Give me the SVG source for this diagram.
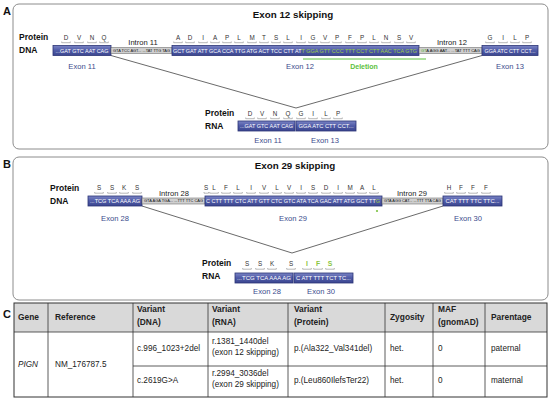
<svg xmlns="http://www.w3.org/2000/svg" xmlns:xlink="http://www.w3.org/1999/xlink" width="550" height="400" viewBox="0 0 550 400">
<defs>
<linearGradient id="exg" x1="0" y1="0" x2="0" y2="1">
<stop offset="0" stop-color="#7a84c4"/>
<stop offset="0.45" stop-color="#525da9"/>
<stop offset="1" stop-color="#3b4690"/>
</linearGradient>
<path id="br" d="M-4.3 0 V1.2 H4.3 V0" fill="none" stroke="#8a8a8a" stroke-width="0.6"/>
</defs>
<style>
text{font-family:"Liberation Sans",Arial,sans-serif}
.panel{fill:none;stroke:#8c8c8c;stroke-width:1}
.plab{font-size:11px;font-weight:bold;fill:#111}
.title{font-size:9.8px;font-weight:bold;fill:#111;text-anchor:middle}
.side{font-size:8.5px;font-weight:bold;fill:#111}
.ex{fill:url(#exg);stroke:#2b3476;stroke-width:0.8}
.in{fill:#cfcfcf;stroke:#5a5a5a;stroke-width:0.5}
.seq{font-size:5.4px;fill:#ffffff}
.iseq{font-size:3.1px;fill:#111}
.aa{font-size:6.3px;fill:#333;text-anchor:middle}
.aag{font-size:6.8px;fill:#8cc63f;font-weight:bold;text-anchor:middle}
.exl{font-size:7.6px;fill:#3b4b8c;text-anchor:middle}
.inl{font-size:7.6px;fill:#222;text-anchor:middle}
.grn{fill:#9ccf45}
.del{font-size:7px;fill:#5cc13d;font-weight:bold;text-anchor:middle}
.conn{stroke:#444;stroke-width:0.8;fill:none}
.th{font-size:8.4px;font-weight:bold;fill:#222}
.td{font-size:8.2px;fill:#222}
.tl{stroke:#333;stroke-width:0.8}
</style>

<!-- Panel labels and borders -->
<text class="plab" x="3" y="15">A</text>
<rect class="panel" x="13" y="4" width="535" height="145" rx="6"/>
<text class="plab" x="3" y="168">B</text>
<rect class="panel" x="13" y="157" width="535" height="143" rx="6"/>
<text class="plab" x="3" y="318">C</text>

<!-- ===== Panel A ===== -->
<text class="title" x="293" y="18">Exon 12 skipping</text>
<text class="side" x="19" y="40">Protein</text>
<text class="side" x="19" y="53">DNA</text>

<g id="connectorsA">
<path class="conn" d="M111 55.5 L296 108 L482 55.5"/>
</g>

<g id="exon11-dna">
<text class="aa" x="66 79 92 104" y="39.5">DVNQ</text>
<use xlink:href="#br" x="66" y="41.5"/><use xlink:href="#br" x="79" y="41.5"/><use xlink:href="#br" x="92" y="41.5"/><use xlink:href="#br" x="104" y="41.5"/>
<rect class="ex" x="53" y="45.5" width="58" height="10"/>
<text class="seq" x="55.5" y="52.7" textLength="53" lengthAdjust="spacingAndGlyphs">...GAT GTC AAT CAG</text>
<text class="exl" x="82" y="69">Exon 11</text>
</g>

<g id="intron11">
<rect class="in" x="111" y="47.5" width="61" height="6"/>
<text class="iseq" x="113" y="51.6" textLength="57" lengthAdjust="spacingAndGlyphs">GTA TCC AGT... ...TAT TTG TAG</text>
<text class="inl" x="143" y="45">Intron 11</text>
</g>

<g id="exon12-dna">
<text class="aa" x="178 190 203 215 227 239 252 264 276 288 301 313 325 337 350 362 374 386 399 411" y="39.5">ADIAPLMTSLIGVPFPLNSV</text>
<use xlink:href="#br" x="178" y="41.5"/><use xlink:href="#br" x="190" y="41.5"/><use xlink:href="#br" x="203" y="41.5"/><use xlink:href="#br" x="215" y="41.5"/><use xlink:href="#br" x="227" y="41.5"/><use xlink:href="#br" x="239" y="41.5"/><use xlink:href="#br" x="252" y="41.5"/><use xlink:href="#br" x="264" y="41.5"/><use xlink:href="#br" x="276" y="41.5"/><use xlink:href="#br" x="288" y="41.5"/><use xlink:href="#br" x="301" y="41.5"/><use xlink:href="#br" x="313" y="41.5"/><use xlink:href="#br" x="325" y="41.5"/><use xlink:href="#br" x="337" y="41.5"/><use xlink:href="#br" x="350" y="41.5"/><use xlink:href="#br" x="362" y="41.5"/><use xlink:href="#br" x="374" y="41.5"/><use xlink:href="#br" x="386" y="41.5"/><use xlink:href="#br" x="399" y="41.5"/><use xlink:href="#br" x="411" y="41.5"/>
<rect class="ex" x="172" y="45.5" width="247" height="10"/>
<text class="seq" x="173" y="52.7" textLength="244" lengthAdjust="spacingAndGlyphs">GCT GAT ATT GCA CCA TTG ATG ACT TCC CTT AT<tspan class="grn">T GGA GTT CCC TTT CCT CTT AAC TCA GTG</tspan></text>
<text class="exl" x="300" y="69">Exon 12</text>
<line x1="303" y1="59" x2="426" y2="59" stroke="#5cc13d" stroke-width="1"/>
<text class="del" x="364" y="69">Deletion</text>
</g>

<g id="intron12">
<rect class="in" x="419" y="47.5" width="63" height="6"/>
<text class="iseq" x="421" y="51.6" textLength="59" lengthAdjust="spacingAndGlyphs"><tspan fill="#4caf2a">GT</tspan>A AGG AAT... ...TAT TTT CAG</text>
<text class="inl" x="452" y="45">Intron 12</text>
</g>

<g id="exon13-dna">
<text class="aa" x="490 503 515 527" y="39.5">GILP</text>
<use xlink:href="#br" x="490" y="41.5"/><use xlink:href="#br" x="503" y="41.5"/><use xlink:href="#br" x="515" y="41.5"/><use xlink:href="#br" x="527" y="41.5"/>
<rect class="ex" x="482" y="45.5" width="56" height="10"/>
<text class="seq" x="484.5" y="52.7" textLength="51" lengthAdjust="spacingAndGlyphs">GGA ATC CTT CCT...</text>
<text class="exl" x="510" y="69">Exon 13</text>
</g>

<g id="rnaA">
<text class="side" x="205" y="116">Protein</text>
<text class="side" x="205" y="129">RNA</text>
<text class="aa" x="250 262 275 288 301 313 326 338" y="115.5">DVNQGILP</text>
<use xlink:href="#br" x="250" y="117.5"/><use xlink:href="#br" x="262" y="117.5"/><use xlink:href="#br" x="275" y="117.5"/><use xlink:href="#br" x="288" y="117.5"/><use xlink:href="#br" x="301" y="117.5"/><use xlink:href="#br" x="313" y="117.5"/><use xlink:href="#br" x="326" y="117.5"/><use xlink:href="#br" x="338" y="117.5"/>
<rect class="ex" x="238" y="121" width="57" height="10"/>
<rect class="ex" x="296" y="121" width="60" height="10"/>
<text class="seq" x="240" y="128.2" textLength="53" lengthAdjust="spacingAndGlyphs">...GAT GTC AAT CAG</text>
<text class="seq" x="298.5" y="128.2" textLength="55" lengthAdjust="spacingAndGlyphs">GGA ATC CTT CCT...</text>
<text class="exl" x="268" y="143">Exon 11</text>
<text class="exl" x="325" y="143">Exon 13</text>
</g>

<!-- ===== Panel B ===== -->
<text class="title" x="295" y="169">Exon 29 skipping</text>
<text class="side" x="50" y="191">Protein</text>
<text class="side" x="50" y="204">DNA</text>

<g id="connectorsB">
<path class="conn" d="M142 206 L292 253 L443 206"/>
</g>

<g id="exon28-dna">
<text class="aa" x="99 112 124 137" y="190">SSKS</text>
<use xlink:href="#br" x="99" y="192"/><use xlink:href="#br" x="112" y="192"/><use xlink:href="#br" x="124" y="192"/><use xlink:href="#br" x="137" y="192"/>
<rect class="ex" x="88" y="196" width="54" height="10"/>
<text class="seq" x="90" y="203.2" textLength="50" lengthAdjust="spacingAndGlyphs">...TCG TCA AAA AG</text>
<text class="exl" x="115" y="221">Exon 28</text>
</g>

<g id="intron28">
<rect class="in" x="142" y="198" width="63" height="6"/>
<text class="iseq" x="144" y="202.1" textLength="59" lengthAdjust="spacingAndGlyphs">GTA AGA TGA... ...TTT TTC CAG</text>
<text class="inl" x="174" y="195.5">Intron 28</text>
</g>

<g id="exon29-dna">
<text class="aa" x="206 214 226 238 251 264 277 289 301 313 326 338 350 362 374" y="190">SLFLIVLVISDIMAL</text>
<use xlink:href="#br" x="214" y="192"/><use xlink:href="#br" x="226" y="192"/><use xlink:href="#br" x="238" y="192"/><use xlink:href="#br" x="251" y="192"/><use xlink:href="#br" x="264" y="192"/><use xlink:href="#br" x="277" y="192"/><use xlink:href="#br" x="289" y="192"/><use xlink:href="#br" x="301" y="192"/><use xlink:href="#br" x="313" y="192"/><use xlink:href="#br" x="326" y="192"/><use xlink:href="#br" x="338" y="192"/><use xlink:href="#br" x="350" y="192"/><use xlink:href="#br" x="362" y="192"/><use xlink:href="#br" x="374" y="192"/>
<path d="M204 192 V193.2 H208.5 V192" fill="none" stroke="#8a8a8a" stroke-width="0.6"/>
<rect class="ex" x="205" y="196" width="177" height="10"/>
<text class="seq" x="206" y="203.2" textLength="174" lengthAdjust="spacingAndGlyphs">C CTT TTT CTC ATT GTT CTC GTC ATA TCA GAC ATT ATG GCT TT<tspan class="grn">G</tspan></text>
<circle cx="377" cy="211" r="1.1" fill="#7cc242"/>
<text class="exl" x="293" y="221">Exon 29</text>
</g>

<g id="intron29">
<rect class="in" x="382" y="198" width="61" height="6"/>
<text class="iseq" x="384" y="202.1" textLength="57" lengthAdjust="spacingAndGlyphs">GTA AGG CAT... ...TTT TTA CAG</text>
<text class="inl" x="412" y="195.5">Intron 29</text>
</g>

<g id="exon30-dna">
<text class="aa" x="449 461 473 486" y="190">HFFF</text>
<use xlink:href="#br" x="449" y="192"/><use xlink:href="#br" x="461" y="192"/><use xlink:href="#br" x="473" y="192"/><use xlink:href="#br" x="486" y="192"/>
<rect class="ex" x="443" y="196" width="59" height="10"/>
<text class="seq" x="445.5" y="203.2" textLength="54" lengthAdjust="spacingAndGlyphs">CAT TTT TTC TTC...</text>
<text class="exl" x="468" y="221">Exon 30</text>
</g>

<g id="rnaB">
<text class="side" x="202" y="266">Protein</text>
<text class="side" x="202" y="279">RNA</text>
<text class="aa" x="247 260 272 291" y="266">SSKS</text>
<text class="aag" x="307 318 330" y="266">IFS</text>
<use xlink:href="#br" x="247" y="268"/><use xlink:href="#br" x="260" y="268"/><use xlink:href="#br" x="272" y="268"/><use xlink:href="#br" x="291" y="268"/><use xlink:href="#br" x="307" y="268"/><use xlink:href="#br" x="318" y="268"/><use xlink:href="#br" x="330" y="268"/>
<rect class="ex" x="235" y="273" width="58" height="10"/>
<rect class="ex" x="294" y="273" width="59" height="10"/>
<text class="seq" x="237" y="280.2" textLength="54" lengthAdjust="spacingAndGlyphs">...TCG TCA AAA AG</text>
<text class="seq" x="296" y="280.2" textLength="55" lengthAdjust="spacingAndGlyphs">C ATT TTT TCT TC...</text>
<text class="exl" x="267" y="294">Exon 28</text>
<text class="exl" x="321" y="294">Exon 30</text>
</g>

<!-- ===== Panel C: table ===== -->
<g id="table">
<rect x="14" y="303" width="533" height="29" fill="#d9d9d9"/>
<rect x="14" y="303" width="533" height="94" fill="none" stroke="#333" stroke-width="1"/>
<line class="tl" x1="14" y1="332" x2="547" y2="332"/>
<line class="tl" x1="133" y1="366" x2="547" y2="366"/>
<line class="tl" x1="48" y1="303" x2="48" y2="397"/>
<line class="tl" x1="133" y1="303" x2="133" y2="397"/>
<line class="tl" x1="208" y1="303" x2="208" y2="397"/>
<line class="tl" x1="288" y1="303" x2="288" y2="397"/>
<line class="tl" x1="385" y1="303" x2="385" y2="397"/>
<line class="tl" x1="433" y1="303" x2="433" y2="397"/>
<line class="tl" x1="485" y1="303" x2="485" y2="397"/>

<text class="th" x="18" y="320">Gene</text>
<text class="th" x="55" y="320">Reference</text>
<text class="th" x="137" y="312">Variant</text>
<text class="th" x="137" y="325">(DNA)</text>
<text class="th" x="212" y="312">Variant</text>
<text class="th" x="212" y="325">(RNA)</text>
<text class="th" x="294" y="312">Variant</text>
<text class="th" x="294" y="325">(Protein)</text>
<text class="th" x="390" y="320">Zygosity</text>
<text class="th" x="438" y="312">MAF</text>
<text class="th" x="438" y="325">(gnomAD)</text>
<text class="th" x="491" y="320">Parentage</text>

<text class="td" x="18" y="367" font-style="italic">PIGN</text>
<text class="td" x="55" y="367">NM_176787.5</text>

<text class="td" x="137" y="351">c.996_1023+2del</text>
<text class="td" x="212" y="344">r.1381_1440del</text>
<text class="td" x="212" y="355">(exon 12 skipping)</text>
<text class="td" x="294" y="351">p.(Ala322_Val341del)</text>
<text class="td" x="390" y="351">het.</text>
<text class="td" x="438" y="351">0</text>
<text class="td" x="491" y="351">paternal</text>

<text class="td" x="137" y="383">c.2619G&gt;A</text>
<text class="td" x="212" y="376">r.2994_3036del</text>
<text class="td" x="212" y="387">(exon 29 skipping)</text>
<text class="td" x="294" y="383">p.(Leu860IlefsTer22)</text>
<text class="td" x="390" y="383">het.</text>
<text class="td" x="438" y="383">0</text>
<text class="td" x="491" y="383">maternal</text>
</g>
</svg>
